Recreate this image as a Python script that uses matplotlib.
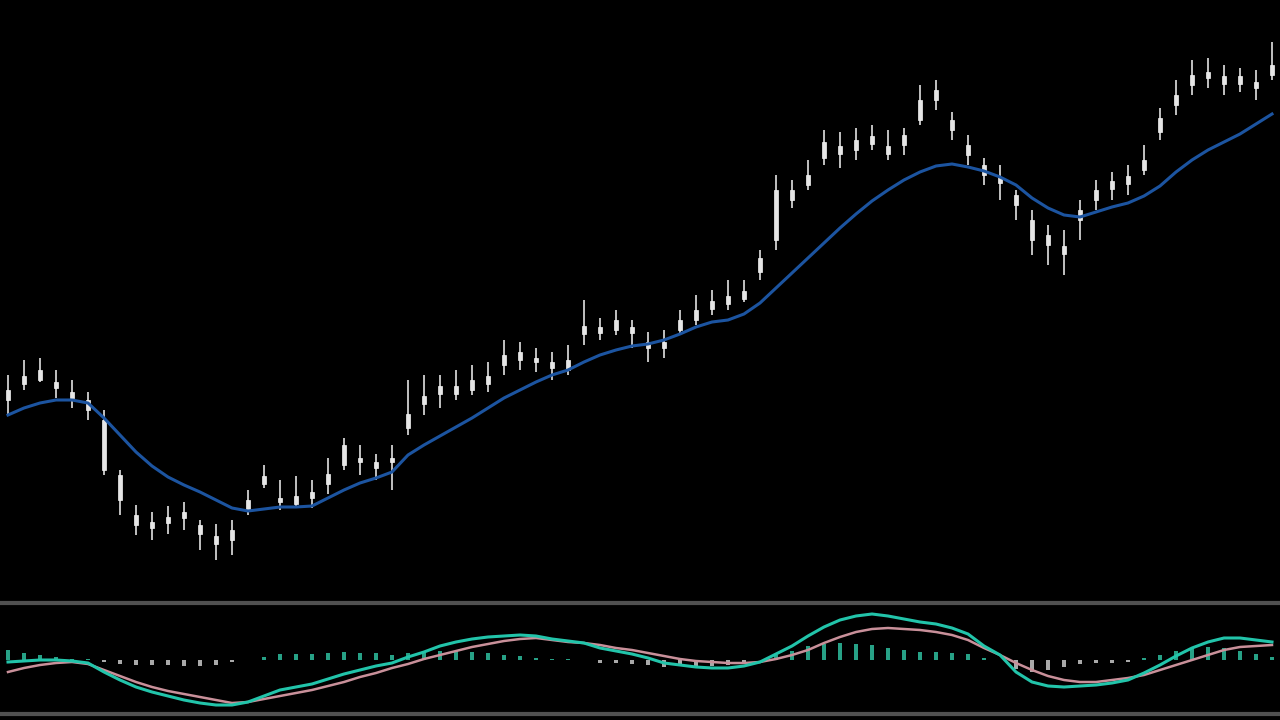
"""Candlestick chart with moving average and MACD panel, dark theme."""

import matplotlib.pyplot as plt
import numpy as np

# Price data (arbitrary units)
opens = [320, 336, 340, 338, 328, 320, 300, 245, 205, 192, 197, 208, 195, 184, 180, 210,
         236, 218, 216, 222, 236, 255, 262, 252, 258, 292, 316, 326, 334, 330, 336, 355,
         368, 362, 352, 350, 386, 393, 390, 393, 378, 372, 390, 400, 411, 416, 421, 448,
         480, 520, 535, 562, 574, 570, 576, 574, 575, 600, 620, 600, 575, 555, 543, 525,
         500, 485, 474, 500, 520, 531, 536, 550, 588, 615, 635, 648, 636, 644, 632, 645]
closes = [330, 344, 350, 332, 322, 310, 250, 220, 195, 198, 203, 202, 186, 176, 190, 220,
          244, 222, 224, 228, 246, 275, 258, 258, 262, 306, 324, 334, 326, 340, 344, 365,
          360, 358, 358, 360, 394, 387, 400, 387, 372, 378, 400, 410, 419, 424, 429, 462,
          530, 530, 545, 578, 566, 580, 584, 566, 585, 620, 630, 590, 565, 545, 537, 515,
          480, 475, 466, 510, 530, 539, 544, 560, 602, 625, 645, 642, 644, 636, 638, 655]
highs = [345, 360, 362, 350, 340, 328, 310, 250, 215, 208, 214, 218, 200, 196, 200, 230,
         255, 240, 244, 240, 262, 282, 275, 266, 275, 340, 345, 345, 350, 355, 358, 380,
         378, 372, 368, 375, 420, 402, 410, 400, 388, 390, 410, 425, 430, 440, 440, 470,
         545, 540, 560, 590, 588, 592, 595, 590, 592, 635, 640, 608, 585, 562, 555, 530,
         510, 495, 490, 520, 540, 548, 555, 575, 612, 640, 660, 662, 655, 652, 650, 678]
lows = [305, 330, 338, 322, 312, 300, 245, 205, 185, 180, 186, 190, 170, 160, 165, 205,
        232, 210, 214, 212, 226, 250, 245, 240, 230, 285, 305, 312, 320, 325, 328, 345,
        350, 348, 340, 345, 375, 380, 385, 372, 358, 362, 385, 395, 405, 410, 418, 440,
        470, 512, 530, 555, 552, 560, 570, 560, 565, 595, 610, 580, 555, 535, 520, 500,
        465, 455, 445, 480, 510, 520, 525, 545, 580, 605, 625, 632, 625, 628, 620, 640]
ma = [305, 312, 317, 320, 320, 317, 302, 285, 268, 254, 243, 235, 228, 220, 212, 209,
      211, 213, 213, 214, 222, 230, 237, 242, 248, 265, 275, 284, 293, 302, 312, 322,
      330, 338, 345, 350, 358, 365, 370, 374, 376, 380, 386, 393, 398, 400, 406, 417,
      432, 447, 462, 477, 492, 506, 519, 530, 540, 548, 554, 556, 553, 549, 543, 535,
      522, 512, 505, 503, 508, 513, 517, 524, 534, 548, 560, 570, 578, 586, 596, 606]

# MACD indicator
macd = [-2, -1, 0, 0, -1, -3, -12, -20, -27, -32, -36, -40, -43, -45, -45, -42,
        -36, -30, -27, -24, -19, -14, -10, -6, -3, 3, 8, 14, 18, 21, 23, 24,
        25, 24, 21, 19, 17, 12, 9, 6, 2, -3, -5, -7, -8, -8, -6, -2,
        6, 14, 24, 33, 40, 44, 46, 44, 41, 38, 36, 32, 26, 14, 5, -12,
        -22, -26, -27, -26, -25, -23, -20, -13, -5, 4, 12, 18, 22, 22, 20, 18]
signal = [-12, -8, -5, -3, -2, -4, -10, -16, -22, -27, -31, -34, -37, -40, -43, -42,
          -39, -36, -33, -30, -26, -22, -17, -13, -8, -4, 1, 5, 9, 13, 16, 19,
          21, 22, 20, 18, 17, 15, 12, 10, 7, 4, 1, -1, -2, -3, -3, -2,
          1, 5, 10, 17, 23, 28, 31, 32, 31, 30, 28, 25, 20, 12, 5, -3,
          -10, -16, -20, -22, -22, -20, -18, -15, -10, -5, 0, 5, 10, 13, 14, 15]

n = len(closes)
x = np.arange(n)
o, c, h, l = map(np.array, (opens, closes, highs, lows))
hist = np.array(macd) - np.array(signal)

fig = plt.figure(figsize=(12.8, 7.2), dpi=100, facecolor="black")
ax = fig.add_axes([0, 120 / 720, 1, 600 / 720], facecolor="black")
ax2 = fig.add_axes([0, 6 / 720, 1, 111 / 720], facecolor="black")

# candles
candle_col = "#d0d0d0"
ax.vlines(x, l, h, color=candle_col, lw=1.3, zorder=2)
bottoms = np.minimum(o, c)
heights = np.maximum(np.abs(c - o), 2)
ax.bar(x, heights, bottom=bottoms, width=0.3, color="#e6e6e6", edgecolor="#f4f4f4",
       lw=0.5, zorder=3)
ax.plot(x, ma, color="#1c54a0", lw=2.2, zorder=4)
ax.set_xlim(-0.5, n - 0.5)
ax.set_ylim(120, 720)
ax.axis("off")

# MACD panel
hist_cols = ["#2fbf9f" if v >= 0 else "#c8c8c8" for v in hist]
ax2.bar(x, hist, width=0.3, color=hist_cols, alpha=0.85, zorder=2)
ax2.plot(x, signal, color="#c9909a", lw=1.8, zorder=3)
ax2.plot(x, macd, color="#22c4aa", lw=2.2, zorder=4)
ax2.set_xlim(-0.5, n - 0.5)
ax2.set_ylim(-54, 57)
ax2.set_xticks([])
ax2.set_yticks([])
for side in ("left", "right"):
    ax2.spines[side].set_visible(False)
for side in ("top", "bottom"):
    ax2.spines[side].set_color("#505050")
    ax2.spines[side].set_linewidth(3)

fig.savefig("out.png", dpi=100, facecolor="black")
